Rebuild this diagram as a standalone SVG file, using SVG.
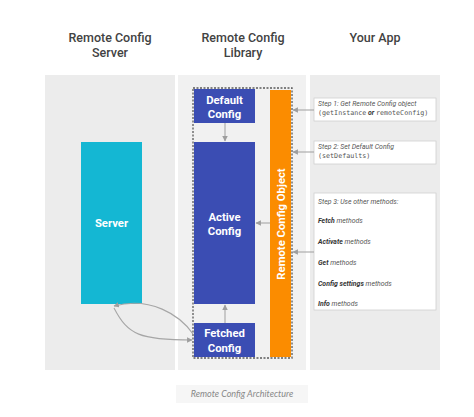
<svg xmlns="http://www.w3.org/2000/svg" width="474" height="417" viewBox="0 0 474 417">
<defs>
<style>
.title{font-family:Roboto,"Liberation Sans",sans-serif;font-size:12.5px;font-weight:500;fill:#424242;text-anchor:middle}
.nodeT{font-family:Roboto,"Liberation Sans",sans-serif;font-size:11.3px;font-weight:bold;fill:#fff;text-anchor:middle}
.blue{fill:#3b4db3}
.step{fill:#fff;stroke:#d0d0d0;stroke-width:0.8}
.st{font-family:Roboto,"Liberation Sans",sans-serif;font-size:6.9px;font-style:italic;fill:#555}
.mono{font-family:"DejaVu Sans Mono","Liberation Mono",monospace;font-style:normal;font-size:6.7px}
.b{font-weight:bold;fill:#333}
.conn{fill:none;stroke:#a6a6a6;stroke-width:1.1}
</style>
<marker id="ah" viewBox="0 0 10 10" refX="9" refY="5" markerWidth="5" markerHeight="5" orient="auto-start-reverse">
<path d="M0,0 L10,5 L0,10 z" fill="#9e9e9e"/>
</marker>
</defs>
<rect width="474" height="417" fill="#fff"/>
<rect x="45" y="75" width="130" height="295" fill="#ececec"/>
<rect x="178" y="75" width="128" height="295" fill="#f1f1f1"/>
<rect x="310" y="75" width="130" height="295" fill="#ececec"/>
<text class="title" x="110" y="42">Remote Config</text>
<text class="title" x="110" y="57">Server</text>
<text class="title" x="243" y="42">Remote Config</text>
<text class="title" x="243" y="57">Library</text>
<text class="title" x="375" y="42">Your App</text>
<rect x="193" y="88" width="99" height="270" fill="none" stroke="#5a5a5a" stroke-width="1.3" stroke-dasharray="2,1.5"/>
<g id="server"><rect x="81" y="142" width="61" height="162" fill="#14b7d3"/><text class="nodeT" x="111.5" y="227">Server</text></g>
<g id="default-config"><rect class="blue" x="194" y="89" width="61" height="34"/><text class="nodeT" x="224.5" y="104">Default</text><text class="nodeT" x="224.5" y="118">Config</text></g>
<g id="active-config"><rect class="blue" x="194" y="142" width="61" height="162"/><text class="nodeT" x="224.5" y="221">Active</text><text class="nodeT" x="224.5" y="235">Config</text></g>
<g id="fetched-config"><rect class="blue" x="194" y="323" width="61" height="34"/><text class="nodeT" x="224.5" y="337">Fetched</text><text class="nodeT" x="224.5" y="352">Config</text></g>
<g id="remote-config-object"><rect x="270" y="90" width="21" height="267" fill="#fb8c00"/><text class="nodeT" transform="translate(284.5,224) rotate(-90)" x="0" y="0">Remote Config Object</text></g>
<g id="step1"><rect class="step" x="314" y="98" width="122" height="23"/><text class="st" x="318" y="106">Step 1: Get Remote Config object</text><text class="st" x="318" y="115"><tspan class="mono">(getInstance</tspan> <tspan class="b">or</tspan> <tspan class="mono">remoteConfig)</tspan></text></g>
<g id="step2"><rect class="step" x="314" y="141" width="122" height="23"/><text class="st" x="318" y="149">Step 2: Set Default Config</text><text class="st" x="318" y="158"><tspan class="mono">(setDefaults)</tspan></text></g>
<g id="step3"><rect class="step" x="314" y="193" width="122" height="117"/>
<text class="st" x="318" y="204">Step 3: Use other methods:</text>
<text class="st" x="318" y="223"><tspan class="b">Fetch</tspan> methods</text>
<text class="st" x="318" y="244"><tspan class="b">Activate</tspan> methods</text>
<text class="st" x="318" y="265"><tspan class="b">Get</tspan> methods</text>
<text class="st" x="318" y="286"><tspan class="b">Config settings</tspan> methods</text>
<text class="st" x="318" y="306"><tspan class="b">Info</tspan> methods</text></g>
<g id="connectors">
<line class="conn" x1="225" y1="123" x2="225" y2="141" marker-end="url(#ah)"/>
<line class="conn" x1="225" y1="323" x2="225" y2="305" marker-end="url(#ah)"/>
<line class="conn" x1="270" y1="223" x2="256" y2="223" marker-end="url(#ah)"/>
<line class="conn" x1="314" y1="110" x2="293" y2="110" marker-end="url(#ah)"/>
<line class="conn" x1="314" y1="152" x2="293" y2="152" marker-end="url(#ah)"/>
<line class="conn" x1="314" y1="252" x2="293" y2="252" marker-end="url(#ah)"/>
<path class="conn" d="M193,334 C180,315 150,296 114,306" marker-end="url(#ah)"/>
<path class="conn" d="M114,308 C128,335 140,340 192,340" marker-end="url(#ah)"/>
</g>
<rect x="176" y="385" width="132" height="18" fill="#f6f6f6"/>
<text x="242" y="397" font-family="Lato,'Liberation Sans',sans-serif" font-size="9" font-style="italic" fill="#888" text-anchor="middle">Remote Config Architecture</text>
</svg>
